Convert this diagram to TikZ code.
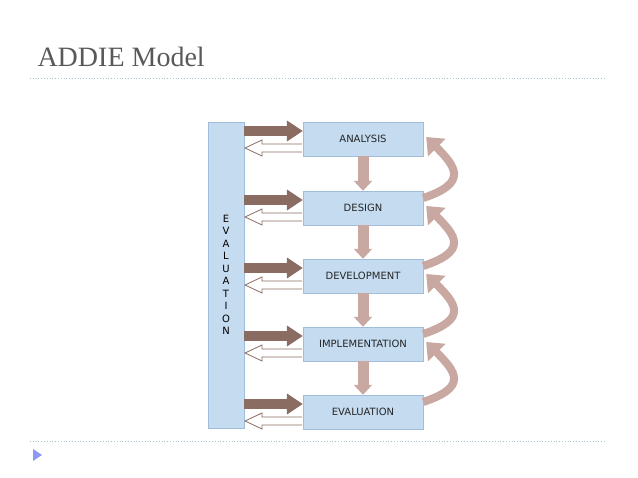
\documentclass[tikz,border=0pt]{standalone}
\usepackage{fontspec}
\setmainfont{DejaVu Sans}
\newfontfamily\titlefont{Liberation Serif}
\usetikzlibrary{arrows.meta,calc}
\definecolor{boxfill}{RGB}{196,219,240}
\definecolor{boxline}{RGB}{160,190,220}
\definecolor{dark}{RGB}{138,108,98}
\definecolor{pinkb}{RGB}{200,168,160}
\definecolor{pinkd}{RGB}{160,125,118}
\definecolor{dots}{RGB}{170,195,205}
\begin{document}
\begin{tikzpicture}[x=1pt,y=-1pt,
 box/.style={draw=boxline,fill=boxfill,minimum width=120pt,minimum height=34pt,font=\fontsize{10}{11}\selectfont,text=black!85},
 rarr/.style={dark,line width=10pt,-{Triangle[length=16pt,width=20pt]}},
 darr/.style={pinkb,line width=11pt,-{Triangle[length=10pt,width=18pt]}},
 curv/.style={pinkb,line width=8pt,-{Triangle[length=15pt,width=24pt]}}]
\useasboundingbox (0,0) rectangle (638,478);
\node[anchor=west,font=\fontsize{28}{30}\selectfont\titlefont,text=black!65] (title) at (34,57) {ADDIE Model};
\draw[dots,dotted,line width=0.8pt] (30,78) -- (605,78);
\draw[dots,dotted,line width=0.8pt] (30,441) -- (605,441);
\fill[boxfill!70!blue] (33,449) -- (42,455) -- (33,461) -- cycle;
\node[draw=boxline,fill=boxfill,minimum width=36pt,minimum height=306pt,inner sep=0pt,font=\fontsize{10}{12.5}\selectfont,align=center] (ev) at (226,275) {E\\V\\A\\L\\U\\A\\T\\I\\O\\N};
\foreach \n/\t/\y in {a/ANALYSIS/139,b/DESIGN/208,c/DEVELOPMENT/276,d/IMPLEMENTATION/344,e/EVALUATION/412}{
 \node[box] (\n) at (363,\y) {\t};
 \coordinate (rs\n) at (ev.east |- 0,\y-8);
 \coordinate (re\n) at (\n.west |- 0,\y-8);
 \draw[rarr] (rs\n) -- (re\n);
 \draw[dark,fill=white,line width=0.8pt] (302,\y+5) -- (262,\y+5) -- (262,\y+1) -- (245,\y+9) -- (262,\y+17) -- (262,\y+13) -- (302,\y+13);
}
\foreach \p/\q in {a/b,b/c,c/d,d/e}{
 \draw[darr] (\p.south) -- (\q.north);
}
\foreach \p/\q in {a/b,b/c,c/d,d/e}{
 \draw[curv] ([yshift=10pt]\q.east) .. controls +(45,-15) and +(30,30) .. ([xshift=3pt,yshift=2pt]\p.east);
}
\end{tikzpicture}
\end{document}
